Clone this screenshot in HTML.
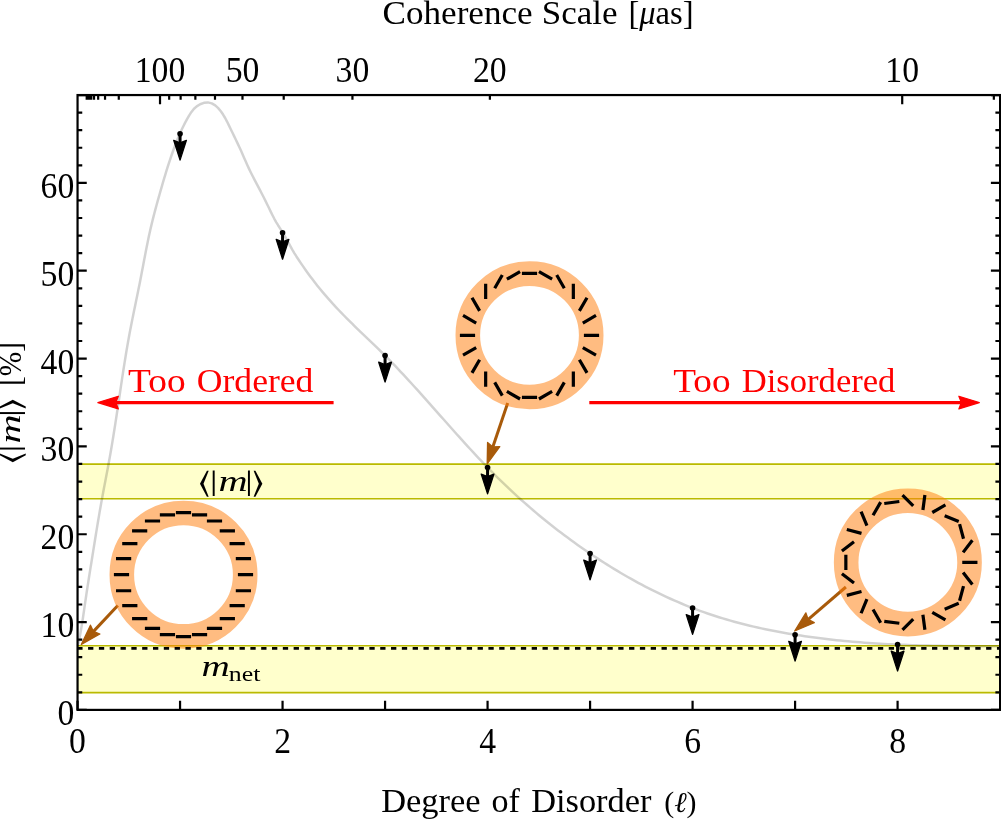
<!DOCTYPE html>
<html lang="en"><head><meta charset="utf-8"><title>Coherence Scale vs Degree of Disorder</title>
<style>html,body{margin:0;padding:0;background:#fff}svg{display:block}</style></head>
<body>
<svg width="1001" height="820" viewBox="0 0 1001 820">
<rect width="1001" height="820" fill="#fff"/>
<rect x="77.55" y="464.05" width="922.55" height="34.7" fill="#ffffcc"/>
<line x1="77.55" y1="464.05" x2="1000.1" y2="464.05" stroke="#baba00" stroke-width="1.7"/>
<line x1="77.55" y1="498.75" x2="1000.1" y2="498.75" stroke="#baba00" stroke-width="1.7"/>
<rect x="77.55" y="645.75" width="922.55" height="46.9" fill="#ffffcc"/>
<line x1="77.55" y1="645.75" x2="1000.1" y2="645.75" stroke="#baba00" stroke-width="1.7"/>
<line x1="77.55" y1="692.65" x2="1000.1" y2="692.65" stroke="#baba00" stroke-width="1.7"/>
<path d="M77.8,646 L78.67,642.1 L79.47,638.18 L80.23,634.26 L80.93,630.33 L81.6,626.39 L82.24,622.44 L82.85,618.49 L83.44,614.54 L84.01,610.59 L84.58,606.63 L85.16,602.67 L85.74,598.72 L86.32,594.76 L86.92,590.81 L87.53,586.86 L88.14,582.91 L88.75,578.96 L89.38,575.02 L90,571.07 L90.63,567.12 L91.27,563.18 L91.9,559.23 L92.54,555.29 L93.17,551.34 L93.8,547.4 L94.44,543.45 L95.07,539.51 L95.71,535.56 L96.35,531.62 L97,527.67 L97.65,523.73 L98.31,519.79 L98.98,515.85 L99.65,511.91 L100.34,507.97 L101.04,504.04 L101.74,500.1 L102.47,496.17 L103.2,492.25 L103.94,488.32 L104.69,484.39 L105.44,480.47 L106.19,476.54 L106.94,472.62 L107.68,468.69 L108.41,464.76 L109.13,460.83 L109.84,456.9 L110.53,452.96 L111.21,449.02 L111.88,445.09 L112.53,441.14 L113.18,437.2 L113.81,433.25 L114.44,429.31 L115.06,425.36 L115.67,421.41 L116.28,417.46 L116.88,413.51 L117.47,409.56 L118.07,405.6 L118.66,401.65 L119.25,397.7 L119.84,393.74 L120.42,389.79 L121.01,385.84 L121.61,381.88 L122.2,377.93 L122.8,373.98 L123.41,370.03 L124.03,366.08 L124.65,362.13 L125.29,358.19 L125.93,354.24 L126.59,350.3 L127.27,346.36 L127.95,342.43 L128.66,338.49 L129.38,334.57 L130.12,330.64 L130.88,326.72 L131.65,322.8 L132.43,318.88 L133.22,314.96 L134.02,311.05 L134.82,307.13 L135.63,303.22 L136.44,299.3 L137.24,295.39 L138.04,291.47 L138.84,287.55 L139.63,283.64 L140.4,279.71 L141.16,275.79 L141.92,271.86 L142.66,267.94 L143.41,264.01 L144.15,260.08 L144.9,256.16 L145.65,252.23 L146.42,248.31 L147.2,244.39 L148,240.47 L148.82,236.57 L149.67,232.66 L150.55,228.76 L151.47,224.88 L152.41,220.99 L153.38,217.12 L154.38,213.25 L155.4,209.38 L156.44,205.52 L157.5,201.67 L158.57,197.82 L159.65,193.97 L160.75,190.13 L161.85,186.29 L162.97,182.45 L164.1,178.62 L165.25,174.79 L166.42,170.97 L167.61,167.16 L168.83,163.35 L170.08,159.55 L171.37,155.76 L172.69,151.98 L174.05,148.21 L175.46,144.47 L176.91,140.75 L178.42,137.06 L179.99,133.4 L181.63,129.77 L183.35,126.18 L185.15,122.61 L187.06,119.07 L189.08,115.56 L191.28,112.16 L193.78,109.04 L196.71,106.34 L200.13,104.22 L203.91,102.84 L207.89,102.41 L211.76,103.4 L215.23,105.43 L218.22,108.11 L220.81,111.22 L223.09,114.56 L225.14,118.01 L227.02,121.54 L228.79,125.11 L230.52,128.71 L232.25,132.3 L234,135.9 L235.74,139.49 L237.48,143.09 L239.18,146.71 L240.84,150.35 L242.45,154.01 L244.05,157.67 L245.65,161.33 L247.28,164.98 L248.96,168.61 L250.69,172.2 L252.49,175.77 L254.32,179.32 L256.18,182.87 L258.04,186.4 L259.89,189.94 L261.73,193.49 L263.55,197.05 L265.35,200.62 L267.11,204.2 L268.86,207.8 L270.59,211.41 L272.36,215 L274.19,218.55 L276.13,222.04 L278.21,225.45 L280.38,228.81 L282.53,232.18 L284.57,235.61 L286.52,239.1 L288.43,242.61 L290.34,246.13 L292.28,249.62 L294.31,253.06 L296.42,256.45 L298.61,259.8 L300.84,263.11 L303.11,266.41 L305.41,269.68 L307.73,272.93 L310.08,276.16 L312.47,279.37 L314.9,282.54 L317.37,285.68 L319.88,288.79 L322.43,291.87 L325.01,294.92 L327.62,297.94 L330.27,300.94 L332.95,303.9 L335.66,306.84 L338.4,309.75 L341.16,312.64 L343.95,315.5 L346.76,318.35 L349.59,321.17 L352.43,323.97 L355.29,326.77 L358.16,329.55 L361.04,332.32 L363.92,335.08 L366.81,337.85 L369.7,340.61 L372.58,343.38 L375.46,346.15 L378.32,348.94 L381.18,351.74 L384.01,354.55 L386.84,357.38 L389.64,360.23 L392.42,363.09 L395.19,365.97 L397.95,368.87 L400.69,371.78 L403.42,374.69 L406.14,377.62 L408.85,380.56 L411.54,383.51 L414.23,386.47 L416.91,389.43 L419.59,392.4 L422.25,395.38 L424.92,398.36 L427.57,401.34 L430.23,404.33 L432.88,407.32 L435.53,410.31 L438.18,413.3 L440.83,416.3 L443.48,419.29 L446.13,422.28 L448.78,425.27 L451.43,428.26 L454.09,431.24 L456.75,434.22 L459.42,437.2 L462.1,440.16 L464.78,443.13 L467.47,446.08 L470.17,449.03 L472.87,451.97 L475.59,454.9 L478.32,457.82 L481.07,460.72 L483.82,463.61 L486.6,466.49 L489.38,469.36 L492.19,472.2 L495.01,475.04 L497.84,477.85 L500.7,480.65 L503.57,483.43 L506.45,486.19 L509.36,488.94 L512.27,491.67 L515.21,494.38 L518.16,497.08 L521.13,499.75 L524.11,502.41 L527.11,505.05 L530.13,507.67 L533.16,510.27 L536.21,512.86 L539.28,515.42 L542.36,517.96 L545.46,520.49 L548.57,523 L551.7,525.48 L554.85,527.95 L558.01,530.39 L561.18,532.82 L564.37,535.23 L567.58,537.61 L570.8,539.98 L574.04,542.32 L577.29,544.65 L580.55,546.95 L583.83,549.23 L587.12,551.5 L590.43,553.74 L593.75,555.96 L597.09,558.16 L600.44,560.34 L603.8,562.5 L607.18,564.64 L610.57,566.75 L613.98,568.84 L617.4,570.91 L620.83,572.95 L624.28,574.97 L627.75,576.96 L631.22,578.93 L634.72,580.87 L638.22,582.79 L641.75,584.67 L645.28,586.54 L648.83,588.37 L652.4,590.17 L655.98,591.95 L659.57,593.7 L663.18,595.41 L666.8,597.1 L670.44,598.75 L674.09,600.38 L677.76,601.97 L681.44,603.52 L685.14,605.05 L688.84,606.54 L692.57,607.99 L696.3,609.41 L700.05,610.8 L703.81,612.15 L707.59,613.46 L711.37,614.74 L715.17,615.99 L718.98,617.2 L722.8,618.38 L726.63,619.52 L730.46,620.63 L734.31,621.71 L738.17,622.76 L742.03,623.77 L745.91,624.75 L749.79,625.71 L753.68,626.63 L757.57,627.52 L761.47,628.39 L765.38,629.22 L769.29,630.03 L773.21,630.81 L777.14,631.57 L781.07,632.3 L785,633 L788.94,633.69 L792.88,634.34 L796.83,634.98 L800.78,635.59 L804.73,636.18 L808.68,636.75 L812.64,637.3 L816.6,637.82 L820.57,638.33 L824.53,638.82 L828.5,639.28 L832.47,639.73 L836.45,640.16 L840.42,640.57 L844.4,640.96 L848.38,641.33 L852.36,641.68 L856.34,642.02 L860.32,642.34 L864.31,642.65 L868.29,642.94 L872.28,643.21 L876.27,643.47 L880.26,643.71 L884.25,643.94 L888.24,644.15 L892.23,644.35 L896.22,644.54 L900.21,644.71 L904.21,644.87 L908.2,645.02 L912.19,645.16 L916.19,645.29 L920.18,645.41 L924.18,645.51 L928.17,645.61 L932.17,645.7 L936.16,645.78 L940.16,645.85 L944.15,645.91 L948.15,645.97 L952.15,646.02 L956.14,646.06 L960.14,646.1 L964.13,646.14 L968.13,646.17 L972.13,646.19 L976.12,646.21 L980.12,646.23 L984.12,646.25 L988.11,646.26 L992.11,646.28 L996.1,646.29 L1000.1,646.3" fill="none" stroke="#000" stroke-opacity="0.175" stroke-width="2.5" stroke-linejoin="round"/>
<line x1="117.8" y1="605.4" x2="93.54" y2="631.36" stroke="#a85a0a" stroke-width="3.0"/>
<path d="M81.31,644.44L90.46,625.21L93.47,631.44L99.89,634.01Z" fill="#a85a0a" stroke="#a85a0a" stroke-width="1.3" stroke-linejoin="round"/>
<line x1="507.7" y1="403" x2="492.91" y2="446.79" stroke="#a85a0a" stroke-width="3.0"/>
<path d="M487.19,463.75L487.57,442.45L492.88,446.88L499.79,446.58Z" fill="#a85a0a" stroke="#a85a0a" stroke-width="1.3" stroke-linejoin="round"/>
<line x1="845.9" y1="587" x2="808.26" y2="619.35" stroke="#a85a0a" stroke-width="3.0"/>
<path d="M794.68,631.01L805.87,612.89L808.18,619.41L814.28,622.67Z" fill="#a85a0a" stroke="#a85a0a" stroke-width="1.3" stroke-linejoin="round"/>
<circle cx="183.5" cy="574.7" r="61.7" fill="none" stroke="#ff7f0e" stroke-opacity="0.52" stroke-width="24.6"/>
<path d="M237.9,574.7L253.1,574.7M235.79,558.65L250.99,558.65M229.59,543.7L244.79,543.7M219.74,530.86L234.94,530.86M206.9,521.01L222.1,521.01M191.95,514.81L207.15,514.81M175.9,512.7L191.1,512.7M159.85,514.81L175.05,514.81M144.9,521.01L160.1,521.01M132.06,530.86L147.26,530.86M122.21,543.7L137.41,543.7M116.01,558.65L131.21,558.65M113.9,574.7L129.1,574.7M116.01,590.75L131.21,590.75M122.21,605.7L137.41,605.7M132.06,618.54L147.26,618.54M144.9,628.39L160.1,628.39M159.85,634.59L175.05,634.59M175.9,636.7L191.1,636.7M191.95,634.59L207.15,634.59M206.9,628.39L222.1,628.39M219.74,618.54L234.94,618.54M229.59,605.7L244.79,605.7M235.79,590.75L250.99,590.75" stroke="#000" stroke-width="3.2" fill="none"/>
<circle cx="529.5" cy="335.3" r="61.7" fill="none" stroke="#ff7f0e" stroke-opacity="0.52" stroke-width="24.6"/>
<path d="M583.9,335.3L599.1,335.3M582.81,323.05L595.97,315.45M579.39,310.88L586.99,297.72M573.34,299.06L573.34,283.86M564.3,288.19L556.7,275.02M552.13,279.21L538.96,271.61M537.1,273.3L521.9,273.3M520.04,271.61L506.87,279.21M502.3,275.02L494.7,288.19M485.66,283.86L485.66,299.06M472.01,297.72L479.61,310.88M463.03,315.45L476.19,323.05M459.9,335.3L475.1,335.3M463.03,355.15L476.19,347.55M472.01,372.88L479.61,359.72M485.66,386.74L485.66,371.54M502.3,395.58L494.7,382.41M520.04,398.99L506.87,391.39M537.1,397.3L521.9,397.3M552.13,391.39L538.96,398.99M564.3,382.41L556.7,395.58M573.34,371.54L573.34,386.74M579.39,359.72L586.99,372.88M582.81,347.55L595.97,355.15" stroke="#000" stroke-width="3.2" fill="none"/>
<circle cx="907.85" cy="562.4" r="61.7" fill="none" stroke="#ff7f0e" stroke-opacity="0.52" stroke-width="24.6"/>
<path d="M962.25,562.4L977.45,562.4M963.11,552.38L972.36,540.32M963.51,538.74L959.58,524.06M958.71,521.47L944.67,515.65M945.43,504.91L932.27,512.51M924.89,494.98L922.9,510.05M902.48,495.03L913.22,505.77M884.27,503.5L899.34,501.52M873.05,515.29L880.65,502.12M866.92,525.58L861.1,511.54M861.5,533.37L846.82,529.43M853.99,541.73L841.93,550.98M845.85,554.8L845.85,570M853.99,583.07L841.93,573.82M861.5,591.43L846.82,595.37M866.92,599.22L861.1,613.26M873.05,609.51L880.65,622.68M884.27,621.3L899.34,623.28M902.48,629.77L913.22,619.03M924.89,629.82L922.9,614.75M945.43,619.89L932.27,612.29M958.71,603.33L944.67,609.15M963.51,586.06L959.58,600.74M963.11,572.42L972.36,584.48" stroke="#000" stroke-width="3.2" fill="none"/>
<line x1="77.25" y1="648.45" x2="1000.1" y2="648.45" stroke="#000" stroke-width="2.7" stroke-dasharray="5.3 5.52"/>
<line x1="180.06" y1="133.7" x2="180.06" y2="142.7" stroke="#000" stroke-width="3.0"/>
<path d="M180.06,160.1L173.71,140.3L180.06,142.8L186.41,140.3Z" fill="#000" stroke="#000" stroke-width="1.3" stroke-linejoin="round"/>
<circle cx="180.06" cy="133.7" r="2.8" fill="#000"/>
<line x1="282.56" y1="232.8" x2="282.56" y2="241.8" stroke="#000" stroke-width="3.0"/>
<path d="M282.56,259.2L276.21,239.4L282.56,241.9L288.91,239.4Z" fill="#000" stroke="#000" stroke-width="1.3" stroke-linejoin="round"/>
<circle cx="282.56" cy="232.8" r="2.8" fill="#000"/>
<line x1="385.07" y1="355.6" x2="385.07" y2="364.6" stroke="#000" stroke-width="3.0"/>
<path d="M385.07,382L378.72,362.2L385.07,364.7L391.42,362.2Z" fill="#000" stroke="#000" stroke-width="1.3" stroke-linejoin="round"/>
<circle cx="385.07" cy="355.6" r="2.8" fill="#000"/>
<line x1="487.57" y1="467.5" x2="487.57" y2="476.5" stroke="#000" stroke-width="3.0"/>
<path d="M487.57,493.9L481.22,474.1L487.57,476.6L493.92,474.1Z" fill="#000" stroke="#000" stroke-width="1.3" stroke-linejoin="round"/>
<circle cx="487.57" cy="467.5" r="2.8" fill="#000"/>
<line x1="590.08" y1="553.5" x2="590.08" y2="562.5" stroke="#000" stroke-width="3.0"/>
<path d="M590.08,579.9L583.73,560.1L590.08,562.6L596.43,560.1Z" fill="#000" stroke="#000" stroke-width="1.3" stroke-linejoin="round"/>
<circle cx="590.08" cy="553.5" r="2.8" fill="#000"/>
<line x1="692.58" y1="608" x2="692.58" y2="617" stroke="#000" stroke-width="3.0"/>
<path d="M692.58,634.4L686.23,614.6L692.58,617.1L698.93,614.6Z" fill="#000" stroke="#000" stroke-width="1.3" stroke-linejoin="round"/>
<circle cx="692.58" cy="608" r="2.8" fill="#000"/>
<line x1="795.09" y1="634.7" x2="795.09" y2="643.7" stroke="#000" stroke-width="3.0"/>
<path d="M795.09,661.1L788.74,641.3L795.09,643.8L801.44,641.3Z" fill="#000" stroke="#000" stroke-width="1.3" stroke-linejoin="round"/>
<circle cx="795.09" cy="634.7" r="2.8" fill="#000"/>
<line x1="897.59" y1="644.6" x2="897.59" y2="653.6" stroke="#000" stroke-width="3.0"/>
<path d="M897.59,671L891.24,651.2L897.59,653.7L903.94,651.2Z" fill="#000" stroke="#000" stroke-width="1.3" stroke-linejoin="round"/>
<circle cx="897.59" cy="644.6" r="2.8" fill="#000"/>
<line x1="333.6" y1="402.6" x2="115.9" y2="402.6" stroke="#ff0000" stroke-width="3.2"/>
<path d="M97.9,402.6L118.3,396.25L115.8,402.6L118.3,408.95Z" fill="#ff0000" stroke="#ff0000" stroke-width="1.3" stroke-linejoin="round"/>
<line x1="589.3" y1="402.6" x2="961.3" y2="402.6" stroke="#ff0000" stroke-width="3.2"/>
<path d="M979.3,402.6L958.9,408.95L961.4,402.6L958.9,396.25Z" fill="#ff0000" stroke="#ff0000" stroke-width="1.3" stroke-linejoin="round"/>
<rect x="77.55" y="95.05" width="922.55" height="614.85" fill="none" stroke="#000" stroke-width="2.2"/>
<path d="M77.55,709.9h9.2M1000.1,709.9h-9.2M77.55,692.33h4.7M1000.1,692.33h-4.7M77.55,674.77h4.7M1000.1,674.77h-4.7M77.55,657.2h4.7M1000.1,657.2h-4.7M77.55,639.63h4.7M1000.1,639.63h-4.7M77.55,622.06h9.2M1000.1,622.06h-9.2M77.55,604.5h4.7M1000.1,604.5h-4.7M77.55,586.93h4.7M1000.1,586.93h-4.7M77.55,569.36h4.7M1000.1,569.36h-4.7M77.55,551.8h4.7M1000.1,551.8h-4.7M77.55,534.23h9.2M1000.1,534.23h-9.2M77.55,516.66h4.7M1000.1,516.66h-4.7M77.55,499.09h4.7M1000.1,499.09h-4.7M77.55,481.53h4.7M1000.1,481.53h-4.7M77.55,463.96h4.7M1000.1,463.96h-4.7M77.55,446.39h9.2M1000.1,446.39h-9.2M77.55,428.83h4.7M1000.1,428.83h-4.7M77.55,411.26h4.7M1000.1,411.26h-4.7M77.55,393.69h4.7M1000.1,393.69h-4.7M77.55,376.12h4.7M1000.1,376.12h-4.7M77.55,358.56h9.2M1000.1,358.56h-9.2M77.55,340.99h4.7M1000.1,340.99h-4.7M77.55,323.42h4.7M1000.1,323.42h-4.7M77.55,305.86h4.7M1000.1,305.86h-4.7M77.55,288.29h4.7M1000.1,288.29h-4.7M77.55,270.72h9.2M1000.1,270.72h-9.2M77.55,253.15h4.7M1000.1,253.15h-4.7M77.55,235.59h4.7M1000.1,235.59h-4.7M77.55,218.02h4.7M1000.1,218.02h-4.7M77.55,200.45h4.7M1000.1,200.45h-4.7M77.55,182.89h9.2M1000.1,182.89h-9.2M77.55,165.32h4.7M1000.1,165.32h-4.7M77.55,147.75h4.7M1000.1,147.75h-4.7M77.55,130.18h4.7M1000.1,130.18h-4.7M77.55,112.62h4.7M1000.1,112.62h-4.7M77.55,95.05h9.2M1000.1,95.05h-9.2M77.55,709.9v-9.2M180.06,709.9v-9.2M282.56,709.9v-9.2M385.07,709.9v-9.2M487.57,709.9v-9.2M590.08,709.9v-9.2M692.58,709.9v-9.2M795.09,709.9v-9.2M897.59,709.9v-9.2M1000.1,709.9v-9.2M86.71,95.05v4.7M87.86,95.05v4.7M89.33,95.05v4.7M91.29,95.05v4.7M94.04,95.05v4.7M98.17,95.05v4.7M105.04,95.05v4.7M118.78,95.05v4.7M169.18,95.05v4.7M180.63,95.05v4.7M195.36,95.05v4.7M214.99,95.05v4.7M242.48,95.05v4.7M283.71,95.05v4.7M352.44,95.05v4.7M489.88,95.05v4.7M993.84,95.05v4.7M160.02,95.05v9.2M902.21,95.05v9.2" stroke="#000" stroke-width="2.2" fill="none"/>
<g font-family="'Liberation Serif', 'DejaVu Serif', serif" fill="#000">
<text x="57.45" y="724.9" font-size="36.5" textLength="16.85" lengthAdjust="spacingAndGlyphs">0</text>
<text x="40.6" y="637.06" font-size="36.5" textLength="33.7" lengthAdjust="spacingAndGlyphs">10</text>
<text x="40.6" y="549.23" font-size="36.5" textLength="33.7" lengthAdjust="spacingAndGlyphs">20</text>
<text x="40.6" y="461.39" font-size="36.5" textLength="33.7" lengthAdjust="spacingAndGlyphs">30</text>
<text x="40.6" y="373.56" font-size="36.5" textLength="33.7" lengthAdjust="spacingAndGlyphs">40</text>
<text x="40.6" y="285.72" font-size="36.5" textLength="33.7" lengthAdjust="spacingAndGlyphs">50</text>
<text x="40.6" y="197.89" font-size="36.5" textLength="33.7" lengthAdjust="spacingAndGlyphs">60</text>
<text x="69.12" y="753.4" font-size="36.5" textLength="16.85" lengthAdjust="spacingAndGlyphs">0</text>
<text x="274.14" y="753.4" font-size="36.5" textLength="16.85" lengthAdjust="spacingAndGlyphs">2</text>
<text x="479.15" y="753.4" font-size="36.5" textLength="16.85" lengthAdjust="spacingAndGlyphs">4</text>
<text x="684.16" y="753.4" font-size="36.5" textLength="16.85" lengthAdjust="spacingAndGlyphs">6</text>
<text x="889.17" y="753.4" font-size="36.5" textLength="16.85" lengthAdjust="spacingAndGlyphs">8</text>
<text x="134.74" y="82.2" font-size="36.5" textLength="50.55" lengthAdjust="spacingAndGlyphs">100</text>
<text x="225.63" y="82.2" font-size="36.5" textLength="33.7" lengthAdjust="spacingAndGlyphs">50</text>
<text x="335.59" y="82.2" font-size="36.5" textLength="33.7" lengthAdjust="spacingAndGlyphs">30</text>
<text x="473.03" y="82.2" font-size="36.5" textLength="33.7" lengthAdjust="spacingAndGlyphs">20</text>
<text x="885.36" y="82.2" font-size="36.5" textLength="33.7" lengthAdjust="spacingAndGlyphs">10</text>
<text y="23.9" font-size="33"><tspan x="382.6" textLength="150" lengthAdjust="spacingAndGlyphs">Coherence</tspan> <tspan x="541.8" textLength="75.8" lengthAdjust="spacingAndGlyphs">Scale</tspan> <tspan x="628.4" textLength="65.2" lengthAdjust="spacingAndGlyphs">[<tspan font-style="italic">μ</tspan>as]</tspan></text>
<text y="812.1" font-size="33"><tspan x="381.2" textLength="99.4" lengthAdjust="spacingAndGlyphs">Degree</tspan> <tspan x="491.4" textLength="28.4" lengthAdjust="spacingAndGlyphs">of</tspan> <tspan x="531.2" textLength="120.2" lengthAdjust="spacingAndGlyphs">Disorder</tspan> <tspan x="664.2" font-size="28.5" textLength="32.4" lengthAdjust="spacingAndGlyphs">(<tspan font-style="italic">ℓ</tspan>)</tspan></text>
<text y="392" font-size="33" fill="#ff0000"><tspan x="128" textLength="57.6" lengthAdjust="spacingAndGlyphs">Too</tspan> <tspan x="196.8" textLength="116.6" lengthAdjust="spacingAndGlyphs">Ordered</tspan></text>
<text y="392" font-size="33" fill="#ff0000"><tspan x="673.2" textLength="57.4" lengthAdjust="spacingAndGlyphs">Too</tspan> <tspan x="741.8" textLength="153.6" lengthAdjust="spacingAndGlyphs">Disordered</tspan></text>
<text><tspan x="197.4" font-family="'DejaVu Math TeX Gyre', 'DejaVu Serif', serif" font-size="30.7" y="491.9">⟨</tspan><tspan x="210.2" font-family="'DejaVu Math TeX Gyre', 'DejaVu Serif', serif" font-size="30.7" y="491.9">|</tspan><tspan x="218.5" y="491.3" font-size="30" font-style="italic" textLength="29.1" lengthAdjust="spacingAndGlyphs">m</tspan><tspan x="245.5" font-family="'DejaVu Math TeX Gyre', 'DejaVu Serif', serif" font-size="30.7" y="491.9">|</tspan><tspan x="252" font-family="'DejaVu Math TeX Gyre', 'DejaVu Serif', serif" font-size="30.7" y="491.9">⟩</tspan></text>
<text><tspan x="201.6" y="676.3" font-size="30" font-style="italic" textLength="28.3" lengthAdjust="spacingAndGlyphs">m</tspan><tspan x="228.8" y="681" font-size="22" textLength="31.6" lengthAdjust="spacingAndGlyphs">net</tspan></text>
<g transform="translate(20.1,462.2) rotate(-90) translate(-199.9,-491.3)"><text><tspan x="197.4" font-family="'DejaVu Math TeX Gyre', 'DejaVu Serif', serif" font-size="30.7" y="491.9">⟨</tspan><tspan x="210.2" font-family="'DejaVu Math TeX Gyre', 'DejaVu Serif', serif" font-size="30.7" y="491.9">|</tspan><tspan x="218.5" y="491.3" font-size="30" font-style="italic" textLength="29.1" lengthAdjust="spacingAndGlyphs">m</tspan><tspan x="245.5" font-family="'DejaVu Math TeX Gyre', 'DejaVu Serif', serif" font-size="30.7" y="491.9">|</tspan><tspan x="252" font-family="'DejaVu Math TeX Gyre', 'DejaVu Serif', serif" font-size="30.7" y="491.9">⟩</tspan> <tspan x="276.2" y="492.1" font-size="32" textLength="44" lengthAdjust="spacingAndGlyphs">[%]</tspan></text></g>
</g>
</svg>
</body></html>
